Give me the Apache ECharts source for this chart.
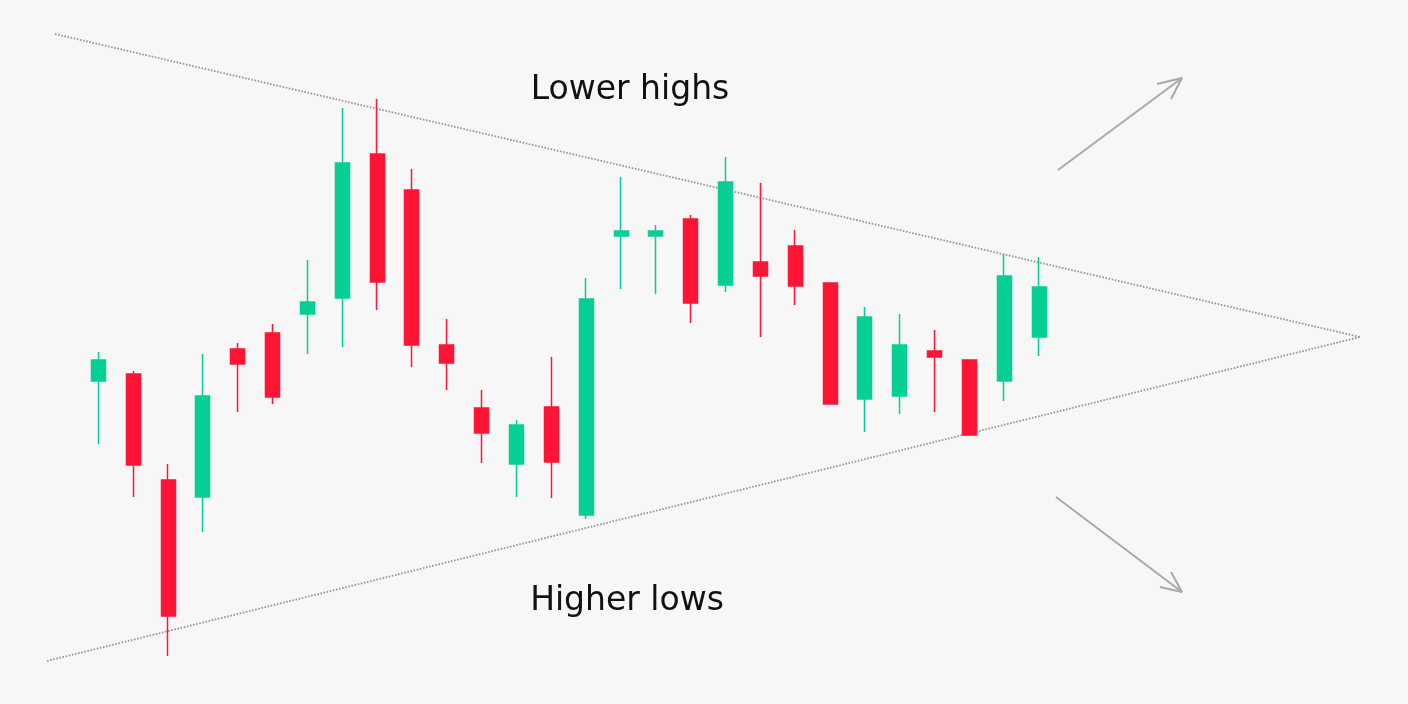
<!DOCTYPE html>
<html>
<head>
<meta charset="utf-8">
<script src="https://cdn.jsdelivr.net/npm/echarts@6/dist/echarts.min.js"></script>
<style>
html,body{margin:0;padding:0;background:#f7f7f7;}
#chart{width:1408px;height:704px;}
</style>
</head>
<body>
<div id="chart"></div>
<script>
// Candles: [open, close, low, high]
const categories = ['1','2','3','4','5','6','7','8','9','10','11','12','13','14','15','16','17','18','19','20','21','22','23','24','25','26','27','28'];
const opens  = [323, 330, 224, 207, 355, 371, 390, 406, 550, 514, 359, 296, 240, 297, 189, 468, 468, 485, 419, 442, 458, 421, 305, 308, 353, 344, 323, 367];
const closes = [344, 239,  88, 308, 340, 307, 402, 541, 422, 359, 341, 271, 279, 242, 405, 473, 473, 401, 522, 428, 418, 300, 387, 359, 347, 269, 428, 417];
const lows   = [260, 207,  48, 172, 292, 300, 350, 357, 394, 337, 314, 241, 207, 206, 185, 415, 410, 381, 412, 367, 399, 300, 272, 290, 292, 269, 303, 348];
const highs  = [352, 333, 240, 350, 361, 380, 444, 596, 605, 535, 385, 314, 284, 347, 426, 527, 479, 489, 547, 521, 474, 421, 397, 390, 374, 344, 450, 447];

// Trend lines (overlay plane)
const upperTrend = [[55, 670], [1360, 367]];
const lowerTrend = [[47, 43], [1360, 367]];
// Arrows (overlay plane): shaft and head
const upArrowShaft = [[1058, 534], [1182, 626]];
const upArrowHead  = [[1157, 620], [1182, 626], [1171, 605]];
const downArrowShaft = [[1056, 207], [1182, 112]];
const downArrowHead  = [[1160, 117], [1182, 112], [1171, 132]];

const labels = ['Lower highs', 'Higher lows'];

const candleData = categories.map((c, i) => [opens[i], closes[i], lows[i], highs[i]]);

const chart = echarts.init(document.getElementById('chart'));
const lineStyleArrow = {color: '#a9a9a9', width: 2};
const trendStyle = {color: '#959595', width: 1.8, type: [1.6, 1.6]};
const labelFont = '400 33px "DejaVu Sans", sans-serif';

chart.setOption({
  backgroundColor: '#f7f7f7',
  animation: false,
  grid: [
    {left: 81, width: 975.5, top: 0, bottom: 0},
    {left: 0, right: 0, top: 0, bottom: 0}
  ],
  xAxis: [
    {type: 'category', data: categories, gridIndex: 0, show: false, boundaryGap: true},
    {type: 'value', gridIndex: 1, min: 0, max: 1408, show: false}
  ],
  yAxis: [
    {type: 'value', gridIndex: 0, min: 0, max: 704, show: false},
    {type: 'value', gridIndex: 1, min: 0, max: 704, show: false}
  ],
  series: [
    {type: 'line', xAxisIndex: 1, yAxisIndex: 1, data: upperTrend, symbol: 'none', lineStyle: trendStyle, z: 1},
    {type: 'line', xAxisIndex: 1, yAxisIndex: 1, data: lowerTrend, symbol: 'none', lineStyle: trendStyle, z: 1},
    {type: 'line', xAxisIndex: 1, yAxisIndex: 1, data: upArrowShaft, symbol: 'none', lineStyle: lineStyleArrow, z: 1},
    {type: 'line', xAxisIndex: 1, yAxisIndex: 1, data: upArrowHead, symbol: 'none', lineStyle: lineStyleArrow, z: 1},
    {type: 'line', xAxisIndex: 1, yAxisIndex: 1, data: downArrowShaft, symbol: 'none', lineStyle: lineStyleArrow, z: 1},
    {type: 'line', xAxisIndex: 1, yAxisIndex: 1, data: downArrowHead, symbol: 'none', lineStyle: lineStyleArrow, z: 1},
    {
      type: 'candlestick', xAxisIndex: 0, yAxisIndex: 0, data: candleData, barWidth: 14.5, z: 3,
      itemStyle: {
        color: '#06cf95', color0: '#fe1535',
        borderColor: '#06cf95', borderColor0: '#fe1535', borderWidth: 1.5
      }
    }
  ],
  graphic: [
    {type: 'text', x: 630, y: 90, style: {text: labels[0], font: labelFont, fill: '#111', align: 'center', verticalAlign: 'middle'}},
    {type: 'text', x: 627, y: 601, style: {text: labels[1], font: labelFont, fill: '#111', align: 'center', verticalAlign: 'middle'}}
  ]
});
</script>
</body>
</html>
